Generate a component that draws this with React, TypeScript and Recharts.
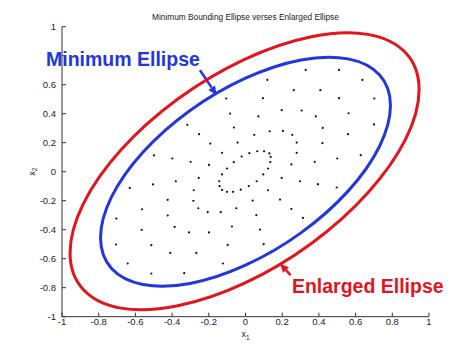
import {
  ScatterChart,
  Scatter,
  XAxis,
  YAxis,
  ReferenceLine,
  ReferenceDot,
} from 'recharts';

const FONT = '"Liberation Sans", Arial, Helvetica, sans-serif';

const ticks = [-1, -0.8, -0.6, -0.4, -0.2, 0, 0.2, 0.4, 0.6, 0.8, 1];
// the 0.8 label on the y axis sits under the "Minimum Ellipse" note in the original
const hiddenYLabels = [0.8];

// sample points (spiral)
const points = [
  { x: -0.317, y: 0.323 }, { x: -0.063, y: 0.305 }, { x: -0.253, y: 0.259 }, { x: -0.043, y: 0.201 },
  { x: -0.192, y: 0.194 }, { x: -0.128, y: 0.13 }, { x: -0.021, y: 0.105 }, { x: 0.021, y: 0.128 },
  { x: -0.499, y: 0.112 }, { x: -0.399, y: 0.091 }, { x: -0.299, y: 0.068 }, { x: -0.199, y: 0.047 },
  { x: -0.064, y: 0.066 }, { x: -0.101, y: 0.022 }, { x: -0.128, y: -0.019 }, { x: -0.255, y: -0.043 },
  { x: -0.143, y: -0.066 }, { x: -0.38, y: -0.066 }, { x: -0.504, y: -0.088 }, { x: -0.631, y: -0.112 },
  { x: -0.141, y: -0.1 }, { x: -0.128, y: -0.126 }, { x: -0.101, y: -0.139 }, { x: -0.068, y: -0.139 },
  { x: -0.026, y: -0.124 }, { x: 0.018, y: -0.099 }, { x: -0.282, y: -0.128 }, { x: -0.424, y: -0.194 },
  { x: -0.284, y: -0.201 }, { x: -0.564, y: -0.259 }, { x: -0.257, y: -0.252 }, { x: -0.206, y: -0.279 },
  { x: -0.135, y: -0.279 }, { x: -0.05, y: -0.252 }, { x: -0.704, y: -0.323 }, { x: -0.424, y: -0.302 },
  { x: -0.386, y: -0.381 }, { x: -0.074, y: -0.378 }, { x: -0.566, y: -0.401 }, { x: -0.308, y: -0.419 },
  { x: -0.199, y: -0.419 }, { x: -0.706, y: -0.502 }, { x: -0.513, y: -0.507 }, { x: -0.097, y: -0.505 },
  { x: -0.41, y: -0.56 }, { x: -0.268, y: -0.56 }, { x: -0.642, y: -0.633 }, { x: -0.123, y: -0.633 },
  { x: -0.513, y: -0.702 }, { x: -0.334, y: -0.7 }, { x: 0.328, y: 0.702 }, { x: 0.51, y: 0.702 },
  { x: 0.119, y: 0.633 }, { x: 0.637, y: 0.633 }, { x: 0.263, y: 0.562 }, { x: 0.408, y: 0.562 },
  { x: -0.105, y: 0.505 }, { x: 0.095, y: 0.507 }, { x: 0.51, y: 0.507 }, { x: 0.702, y: 0.505 },
  { x: 0.197, y: 0.424 }, { x: 0.306, y: 0.422 }, { x: -0.084, y: 0.401 }, { x: 0.07, y: 0.381 },
  { x: 0.383, y: 0.381 }, { x: 0.562, y: 0.403 }, { x: 0.421, y: 0.302 }, { x: 0.7, y: 0.326 },
  { x: 0.048, y: 0.254 }, { x: 0.132, y: 0.279 }, { x: 0.204, y: 0.281 }, { x: 0.255, y: 0.254 },
  { x: 0.559, y: 0.259 }, { x: 0.279, y: 0.201 }, { x: 0.419, y: 0.197 }, { x: 0.064, y: 0.141 },
  { x: 0.101, y: 0.141 }, { x: 0.13, y: 0.126 }, { x: 0.137, y: 0.102 }, { x: 0.135, y: 0.066 },
  { x: 0.279, y: 0.13 }, { x: 0.5, y: 0.091 }, { x: 0.628, y: 0.114 }, { x: 0.25, y: 0.05 },
  { x: 0.377, y: 0.068 }, { x: 0.123, y: 0.022 }, { x: 0.097, y: -0.019 }, { x: 0.197, y: -0.043 },
  { x: 0.297, y: -0.066 }, { x: 0.395, y: -0.086 }, { x: 0.497, y: -0.109 }, { x: 0.061, y: -0.066 },
  { x: 0.123, y: -0.128 }, { x: 0.039, y: -0.199 }, { x: 0.188, y: -0.192 }, { x: 0.25, y: -0.257 },
  { x: 0.313, y: -0.319 }, { x: 0.059, y: -0.3 }, { x: 0.079, y: -0.399 }, { x: 0.099, y: -0.5 },
];

// outline points of the two ellipses
const minEllipse = [
  { x: 0.79, y: 0.456 }, { x: 0.73, y: 0.668 }, { x: 0.559, y: 0.778 }, { x: 0.302, y: 0.771 },
  { x: 0, y: 0.645 }, { x: -0.302, y: 0.422 }, { x: -0.559, y: 0.134 }, { x: -0.73, y: -0.174 },
  { x: -0.79, y: -0.456 }, { x: -0.73, y: -0.668 }, { x: -0.559, y: -0.778 }, { x: -0.302, y: -0.771 },
  { x: 0, y: -0.645 }, { x: 0.302, y: -0.422 }, { x: 0.559, y: -0.134 }, { x: 0.73, y: 0.174 },
];

const bigEllipse = [
  { x: 0.946, y: 0.566 }, { x: 0.874, y: 0.818 }, { x: 0.667, y: 0.947 }, { x: 0.359, y: 0.931 },
  { x: -0.005, y: 0.775 }, { x: -0.369, y: 0.501 }, { x: -0.678, y: 0.151 }, { x: -0.884, y: -0.222 },
  { x: -0.956, y: -0.56 }, { x: -0.884, y: -0.812 }, { x: -0.678, y: -0.941 }, { x: -0.369, y: -0.925 },
  { x: -0.005, y: -0.769 }, { x: 0.359, y: -0.495 }, { x: 0.667, y: -0.145 }, { x: 0.874, y: 0.228 },
];

const BLUE = '#2136de';
const RED = '#e3141b';

// closed catmull-rom so the outline passes through the points
const closedSpline = (ctx: any) => {
  let pts: number[][] = [];
  return {
    areaStart() {},
    areaEnd() {},
    lineStart() {
      pts = [];
    },
    point(x: number, y: number) {
      pts.push([x, y]);
    },
    lineEnd() {
      const n = pts.length;
      if (!n) return;
      ctx.moveTo(pts[0][0], pts[0][1]);
      for (let i = 0; i < n; i++) {
        const p0 = pts[(i - 1 + n) % n];
        const p1 = pts[i];
        const p2 = pts[(i + 1) % n];
        const p3 = pts[(i + 2) % n];
        ctx.bezierCurveTo(
          p1[0] + (p2[0] - p0[0]) / 6,
          p1[1] + (p2[1] - p0[1]) / 6,
          p2[0] - (p3[0] - p1[0]) / 6,
          p2[1] - (p3[1] - p1[1]) / 6,
          p2[0],
          p2[1]
        );
      }
      ctx.closePath();
    },
  };
};

const Arrow = (color: string) => (p: any) => {
  const { x1, y1, x2, y2 } = p;
  const a = Math.atan2(y2 - y1, x2 - x1);
  const len = 9;
  const w = 4;
  const bx = x2 - len * Math.cos(a);
  const by = y2 - len * Math.sin(a);
  const nx = -Math.sin(a) * w;
  const ny = Math.cos(a) * w;
  return (
    <g>
      <line x1={x1} y1={y1} x2={bx} y2={by} stroke={color} strokeWidth={2.5} />
      <polygon points={`${x2},${y2} ${bx + nx},${by + ny} ${bx - nx},${by - ny}`} fill={color} />
    </g>
  );
};

const Note = (text: string, color: string) => (p: any) => (
  <text
    x={p.cx}
    y={p.cy}
    fill={color}
    fontSize={19.5}
    fontWeight="bold"
    fontFamily={FONT}
    textAnchor="start"
  >
    {text}
  </text>
);

const XLabel = (props: any) => {
  const vb = props.viewBox || {};
  return (
    <text x={vb.x + vb.width / 2} y={vb.y + 20.5} fontSize={9} fill="#222" fontFamily={FONT} textAnchor="middle">
      x<tspan fontSize={6.5} dy={2.5}>1</tspan>
    </text>
  );
};

const YLabel = (props: any) => {
  const vb = props.viewBox || {};
  const cx = vb.x + 13;
  const cy = vb.y + vb.height / 2;
  return (
    <text
      x={cx}
      y={cy}
      transform={`rotate(-90 ${cx} ${cy})`}
      fontSize={9}
      fill="#222"
      fontFamily={FONT}
      textAnchor="middle"
    >
      x<tspan fontSize={6.5} dy={2.5}>2</tspan>
    </text>
  );
};

const noShape = () => <g />;

export default function App() {
  return (
    <div style={{ position: 'absolute', left: 0, top: 0, width: 474, height: 355, background: '#fff' }}>
      <div
        style={{
          position: 'absolute',
          left: 62,
          width: 367,
          top: 12,
          textAlign: 'center',
          fontFamily: FONT,
          fontSize: 8.3,
          lineHeight: '10px',
          color: '#222',
        }}
      >
        Minimum Bounding Ellipse verses Enlarged Ellipse
      </div>
      <ScatterChart width={474} height={355} margin={{ top: 26.7, right: 45, left: 22, bottom: 18.3 }}>
        <XAxis
          type="number"
          dataKey="x"
          domain={[-1, 1]}
          ticks={ticks}
          allowDataOverflow
          height={20}
          tickSize={-4}
          tickMargin={6}
          axisLine={{ stroke: '#333' }}
          tickLine={{ stroke: '#333' }}
          tick={{ fontSize: 9.5, fill: '#222', fontFamily: FONT }}
          label={{ content: XLabel }}
        />
        <YAxis
          type="number"
          dataKey="y"
          domain={[-1, 1]}
          ticks={ticks}
          allowDataOverflow
          width={40}
          tickSize={-4}
          tickMargin={10}
          axisLine={{ stroke: '#333' }}
          tickLine={{ stroke: '#333' }}
          tick={{ fontSize: 9.5, fill: '#222', fontFamily: FONT }}
          tickFormatter={(v: number) => (hiddenYLabels.includes(v) ? '' : String(v))}
          label={{ content: YLabel }}
        />
        <Scatter
          data={bigEllipse}
          shape={noShape}
          line={{ stroke: RED, strokeWidth: 3 }}
          lineJointType={closedSpline as any}
          isAnimationActive={false}
        />
        <Scatter
          data={minEllipse}
          shape={noShape}
          line={{ stroke: BLUE, strokeWidth: 3 }}
          lineJointType={closedSpline as any}
          isAnimationActive={false}
        />
        <Scatter
          data={points}
          fill="#111"
          shape={(p: any) => <circle cx={p.cx} cy={p.cy} r={1.1} fill="#111" />}
          isAnimationActive={false}
        />
        <ReferenceLine
          segment={[{ x: -0.248, y: 0.7 }, { x: -0.157, y: 0.528 }]}
          shape={Arrow(BLUE)}
          ifOverflow="visible"
        />
        <ReferenceLine
          segment={[{ x: 0.246, y: -0.714 }, { x: 0.188, y: -0.633 }]}
          shape={Arrow(RED)}
          ifOverflow="visible"
        />
        <ReferenceDot x={-1.087} y={0.728} r={0} shape={Note('Minimum Ellipse', BLUE)} ifOverflow="visible" />
        <ReferenceDot x={0.253} y={-0.838} r={0} shape={Note('Enlarged Ellipse', RED)} ifOverflow="visible" />
      </ScatterChart>
    </div>
  );
}
